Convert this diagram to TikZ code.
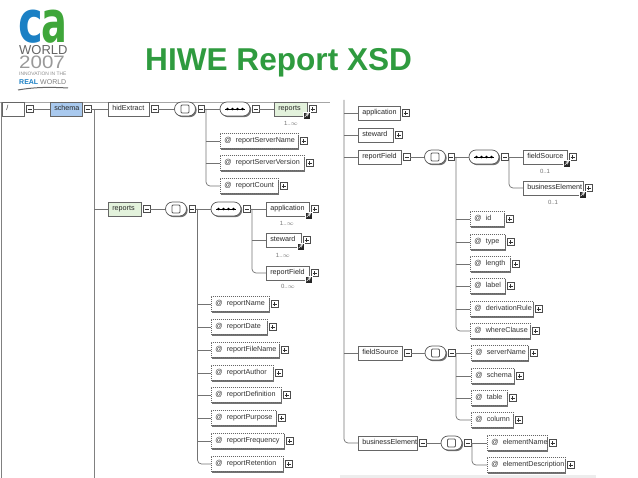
\documentclass[tikz,border=0pt]{standalone}
\usepackage{fontspec}
\setmainfont{Liberation Sans}
\newfontfamily\logofont{DejaVu Sans}
\usepackage{tikz}
\usetikzlibrary{positioning}
\usetikzlibrary{shadows}
\usetikzlibrary{shapes.misc}
\definecolor{titlegreen}{HTML}{2F9B3F}
\definecolor{schemablue}{HTML}{A9C9EE}
\definecolor{elemgreen}{HTML}{E3F2DC}
\definecolor{logoblue}{HTML}{1B80C4}
\definecolor{logogreen}{HTML}{3FA63A}
\tikzset{
  wire/.style={draw=black!55, line width=.7pt},
  border/.style={draw=black!50, line width=1pt},
  shadowed/.style={drop shadow={shadow xshift=1.2pt, shadow yshift=-1.2pt, fill=black!55, opacity=1}},
  elemplain/.style={draw=black!60, line width=.5pt, fill=white, shadowed, text height=5pt, text depth=2pt},
  elemblue/.style={elemplain, fill=schemablue},
  elemgreen/.style={elemplain, fill=elemgreen},
  attrbox/.style={elemplain, dash pattern=on 1pt off 1pt},
  collapseicon/.style={draw=black!70, line width=.5pt, fill=white, minimum size=6.5pt, inner sep=0pt,
    path picture={\draw [black!80, line width=.5pt]
      ([xshift=-2pt]path picture bounding box.center) -- ([xshift=2pt]path picture bounding box.center);}},
  expandicon/.style={collapseicon,
    path picture={\draw [black!80, line width=.5pt]
      ([xshift=-2pt]path picture bounding box.center) -- ([xshift=2pt]path picture bounding box.center)
      ([yshift=-2pt]path picture bounding box.center) -- ([yshift=2pt]path picture bounding box.center);}},
  linkicon/.style={fill=black!85, draw=white, line width=.3pt, minimum size=7pt, inner sep=0pt,
    path picture={\draw [white, line width=.6pt, ->, >=stealth]
      ([xshift=-2pt, yshift=-2pt]path picture bounding box.center) -- ([xshift=2.4pt, yshift=2.4pt]path picture bounding box.center);}},
  oval/.style={rounded rectangle, draw=black!65, line width=.7pt, fill=white, inner sep=0pt,
    minimum height=14pt, shadowed},
  choiceoval/.style={oval, minimum width=21pt,
    path picture={\draw [black!65, line width=.8pt, rounded corners=1pt]
      ([xshift=-4pt, yshift=-4pt]path picture bounding box.center) rectangle
      ([xshift=4pt, yshift=4pt]path picture bounding box.center);}},
  seqoval/.style={oval, minimum width=30pt,
    path picture={
      \draw [black, line width=.7pt] ([xshift=-10pt]path picture bounding box.center) -- ([xshift=10pt]path picture bounding box.center);
      \foreach \d in {-7.5,-2.5,2.5,7.5}
        \fill [black] ([xshift=\d pt]path picture bounding box.center) circle (1.4pt);}},
  occurs/.style={font=\fontsize{6}{6}\selectfont, text=black!55, inner sep=0pt}
}

\begin{document}
\begin{tikzpicture}[x=1pt, y=-1pt, >=stealth, font=\fontsize{7.2}{8}\selectfont]
\useasboundingbox (0,0) rectangle (638,478);

% logo
\node [anchor=base west, inner sep=0pt, text=logoblue, font=\fontsize{58}{58}\logofont\bfseries] (logo-c) at (18,43) {\scalebox{.72}[1]{c}};
\node [anchor=base west, inner sep=0pt, text=logogreen, font=\fontsize{58}{58}\logofont\bfseries] (logo-a) at (41,43) {\scalebox{.66}[1]{a}};
\node [anchor=base west, inner sep=0pt, text=black!60, font=\fontsize{13}{13}\selectfont] (logo-world) at (19,55) {WORLD};
\node [anchor=base west, inner sep=0pt, text=black!40, font=\fontsize{18}{18}\selectfont] (logo-year) at (19,69) {\scalebox{1.14}[1]{2007}};
\node [anchor=base west, inner sep=0pt, text=black!45, font=\fontsize{4.9}{5}\selectfont] (logo-tag) at (19,76) {INNOVATION IN THE};
\node [anchor=base west, inner sep=0pt, text=black!50, font=\fontsize{7}{8}\selectfont] (logo-real) at (19,85) {\textcolor{logoblue}{\textbf{REAL}} WORLD};
\draw [black!60, line width=1pt] (18,90) .. controls (35,87) and (50,87) .. (68,88);

% title
\node [anchor=base west, inner sep=0pt, text=titlegreen, font=\fontsize{31.6}{32}\selectfont\bfseries] (title) at (145,71) {HIWE Report XSD};

% frame of the left panel
\coordinate (frame-nw) at (0,102);
\coordinate (frame-ne) at (330,102);
\coordinate (frame-n) at (1,102);
\coordinate (frame-sw) at (1,478);
\draw [wire, draw=black!35] (frame-nw) -- (frame-ne);
\draw [border] (frame-n) -- (frame-sw);
\fill [black!7] (340,475) rectangle (596,478);

% trunk under schema
\coordinate (trunk-schema) at (94,109);
\coordinate (end-schema) at (94,478);
\draw [border] (trunk-schema) -- (end-schema);

% elements: name / text / style / left / right / y / toggle
\foreach \k/\lab/\s/\xl/\xr/\yy/\ic in {
    root/\slash/elemplain/2/24/109/collapseicon,
    schema/schema/elemblue/50/82/109/collapseicon,
    hidExtract/hidExtract/elemplain/108/149/109/collapseicon,
    reportsref/reports/elemgreen/274/307/109/expandicon,
    reports/reports/elemgreen/108/141/209/collapseicon,
    applicationref/application/elemplain/266/309/209/expandicon,
    stewardref/steward/elemplain/266/301/240/expandicon,
    reportFieldref/reportField/elemplain/266/309/273/expandicon,
    application/application/elemplain/358/400/113/expandicon,
    steward/steward/elemplain/358/393/135/expandicon,
    reportField/reportField/elemplain/358/401/157/collapseicon,
    fieldSourceref/fieldSource/elemplain/523/567/157/expandicon,
    businessElementref/businessElement/elemplain/523/583/188/expandicon,
    fieldSource/fieldSource/elemplain/358/402/353/collapseicon,
    businessElement/businessElement/elemplain/358/417/443/collapseicon}
{
  \node [\s, anchor=west, minimum height=14pt, inner xsep=4pt, inner ysep=0pt, align=left,
    text width={(\xr-\xl-8)*1pt}, text=black!85] (\k) at (\xl,\yy) {\lab};
  \node [\ic] (tg-\k) at (\xr+5.5,\yy) {};
}

% attributes: name / text / left / right / y
\foreach \k/\lab/\xl/\xr/\yy in {
    reportServerName/reportServerName/220/298/141,
    reportServerVersion/reportServerVersion/220/304/163,
    reportCount/reportCount/220/278/186,
    reportName/reportName/211/269/304,
    reportDate/reportDate/211/267/327,
    reportFileName/reportFileName/211/279/350,
    reportAuthor/reportAuthor/211/273/373,
    reportDefinition/reportDefinition/211/281/395,
    reportPurpose/reportPurpose/211/276/418,
    reportFrequency/reportFrequency/211/284/441,
    reportRetention/reportRetention/211/283/464,
    id/id/470/504/219,
    type/type/470/505/242,
    length/length/470/510/264,
    label/label/470/505/286,
    derivationRule/derivationRule/470/533/309,
    whereClause/whereClause/470/530/331,
    serverName/serverName/471/528/353,
    columnschema/schema/471/514/376,
    table/table/471/507/398,
    column/column/471/513/420,
    elementName/elementName/487/547/443,
    elementDescription/elementDescription/487/565/465}
{
  \node [attrbox, anchor=west, minimum height=15pt, inner xsep=4pt, inner ysep=0pt, align=left,
    text width={(\xr-\xl-8)*1pt}, text=black!80] (\k) at (\xl,\yy) {\makebox[11.5pt][l]{@}\lab};
  \node [expandicon] (tg-\k) at (\xr+5.5,\yy) {};
}

% model groups: name / style / centre / y
\foreach \k/\s/\x/\yy in {
    c1/choiceoval/185/109, s1/seqoval/235/109,
    c2/choiceoval/176/209, s2/seqoval/226/209,
    c3/choiceoval/435/157, s3/seqoval/484/157,
    c4/choiceoval/435.5/353,
    c5/choiceoval/451.5/443}
{
  \node [\s] (\k) at (\x,\yy) {};
  \node [collapseicon, right=2pt of \k] (tg-\k) {};
}

% references get the small arrow
\foreach \k in {reportsref,applicationref,stewardref,reportFieldref,fieldSourceref,businessElementref}
  \node [linkicon] (link-\k) at ([xshift=-1pt, yshift=1pt]\k.south east) {};

% occurrences
\foreach \k/\lab/\x/\y in {
    reportsref/1..$\infty$/291/123,
    applicationref/1..$\infty$/287/223,
    stewardref/1..$\infty$/283/255,
    reportFieldref/0..$\infty$/288/286,
    fieldSourceref/0..1/545/171,
    businessElementref/0..1/553/202}
  \node [occurs] (occ-\k) at (\x,\y) {\lab};

% straight links
\foreach \a/\b in {
    tg-root/schema, tg-schema/hidExtract, tg-hidExtract/c1, tg-c1/s1, tg-s1/reportsref,
    tg-reports/c2, tg-c2/s2, tg-s2/applicationref,
    tg-reportField/c3, tg-c3/s3, tg-s3/fieldSourceref,
    tg-fieldSource/c4, tg-c4/serverName,
    tg-businessElement/c5, tg-c5/elementName}
  \draw [wire] (\a.east) -- (\b.west);

% branches: the last child of each fan has the round corner
\coordinate (fan-s1) at (206,109);
\coordinate (fan-c2) at (197.5,209);
\coordinate (fan-s2) at (252,209);
\coordinate (fan-panel) at (344,100);
\coordinate (fan-c3) at (456,157);
\coordinate (fan-s3) at (509,157);
\coordinate (fan-c4) at (456,353);
\coordinate (fan-c5) at (472,443);

\foreach \f/\last in {
    fan-s1/reportCount, fan-c2/reportRetention, fan-s2/reportFieldref,
    fan-panel/businessElement, fan-c3/whereClause, fan-s3/businessElementref,
    fan-c4/column, fan-c5/elementDescription}
  \draw [wire, rounded corners=4pt] (\f) |- (\last.west);

\foreach \f/\c in {
    fan-s1/reportServerName, fan-s1/reportServerVersion,
    fan-c2/reportName, fan-c2/reportDate, fan-c2/reportFileName, fan-c2/reportAuthor,
    fan-c2/reportDefinition, fan-c2/reportPurpose, fan-c2/reportFrequency,
    fan-s2/stewardref,
    fan-panel/application, fan-panel/steward, fan-panel/reportField, fan-panel/fieldSource,
    fan-c3/id, fan-c3/type, fan-c3/length, fan-c3/label, fan-c3/derivationRule,
    fan-c4/columnschema, fan-c4/table}
  \draw [wire] (\f |- \c.west) -- (\c.west);

\draw [wire] (trunk-schema |- reports.west) -- (reports.west);

\end{tikzpicture}
\end{document}
